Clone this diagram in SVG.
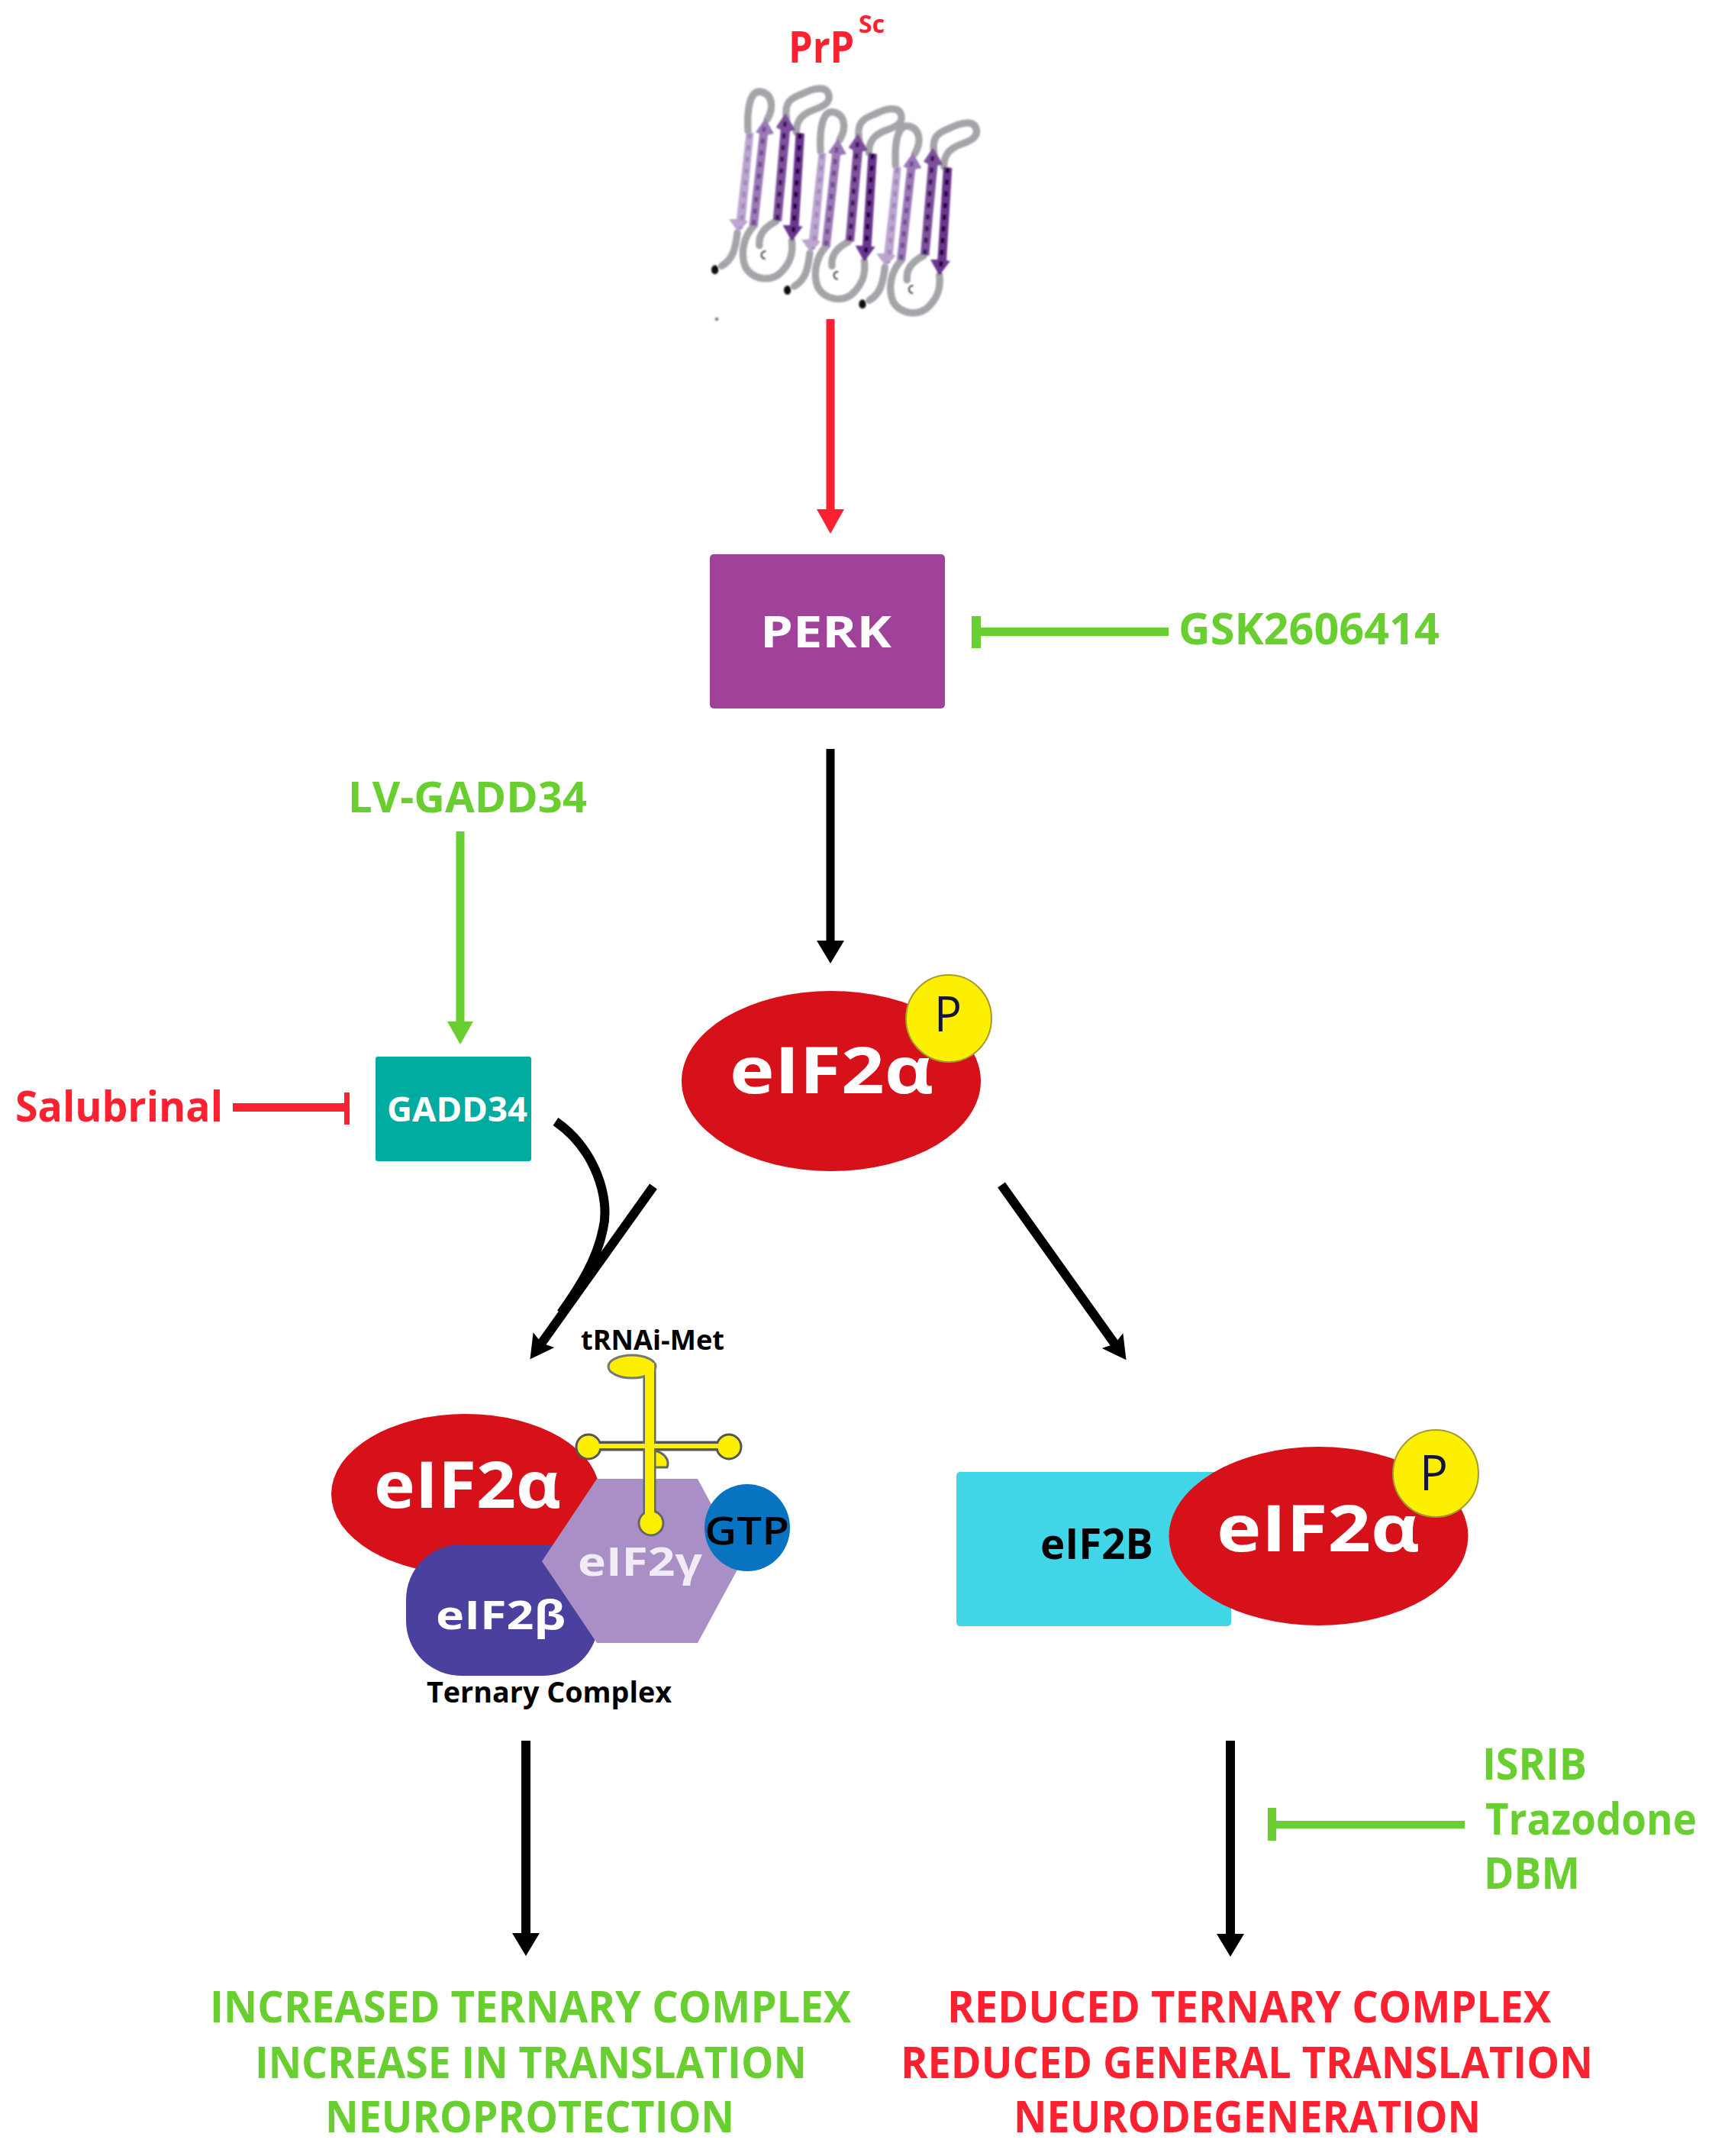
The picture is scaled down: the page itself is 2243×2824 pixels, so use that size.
<svg xmlns="http://www.w3.org/2000/svg" xmlns:xlink="http://www.w3.org/1999/xlink" width="2243" height="2824" viewBox="0 0 2243 2824">
<style>
text{font-family:"Open Sans","Noto Sans","Liberation Sans",sans-serif;font-weight:700}
.g{fill:#69cf30}.r{fill:#fb2130}.w{fill:#fff}.k{fill:#000}
.m{font-size:57px}.a{font-size:84px}
.el{fill:#d7111a}.py{fill:#fcf000;stroke:#a59a30;stroke-width:2}
.tube{fill:none;stroke:#a4a4a9;stroke-width:28;stroke-linecap:round}
.s1{fill:#bca5d0}.s2{fill:#9c78b8}.s3{fill:#7e4f9c}.s4{fill:#6b368f}
.d1,.d2,.d3,.d4{fill:none;stroke-dasharray:20 26;stroke-width:14}
.d1{stroke:#8f6fa8;opacity:.55}.d2{stroke:#5c3a78;opacity:.7}.d3{stroke:#2a0f45;opacity:.85}.d4{stroke:#1a0530}
.arrow{fill:none;stroke:#000;stroke-width:12}
</style>
<defs>
<filter id="soft" x="-5%" y="-5%" width="110%" height="110%"><feGaussianBlur stdDeviation="3"/></filter>
<marker id="hk" markerUnits="userSpaceOnUse" markerWidth="34" markerHeight="40" refX="0" refY="20" orient="auto"><path d="M0 2L30 20L0 38Z" fill="#000"/></marker>
<marker id="hn" markerUnits="userSpaceOnUse" markerWidth="34" markerHeight="40" refX="6" refY="20" orient="auto"><path d="M0 3L31 20L0 37L5 20Z" fill="#000"/></marker>
<marker id="hr" markerUnits="userSpaceOnUse" markerWidth="34" markerHeight="40" refX="0" refY="20" orient="auto"><path d="M0 2L32 20L0 38Z" fill="#fb2130"/></marker>
<marker id="hg" markerUnits="userSpaceOnUse" markerWidth="34" markerHeight="40" refX="0" refY="20" orient="auto"><path d="M0 3L30 20L0 37Z" fill="#69cf30"/></marker>
<g id="prionUnit">
<path class="tube" d="M300,515C295,420 310,360 345,360C395,365 405,420 375,470"/>
<path class="tube" d="M452,470C440,400 470,385 510,370C560,345 610,335 618,375C625,420 560,425 530,445C505,460 490,480 490,520"/>
<path class="tube" d="M258,915C250,980 240,1020 197,1045"/>
<path class="tube" d="M325,885C280,930 270,1000 290,1050C320,1100 390,1110 430,1070C470,1030 478,990 472,945"/>
<path class="tube" d="M410,870C370,890 340,920 345,965"/>
<polygon class="s1" points="293,520 322,522 290,865 300,870 262,912 225,862 255,860"/>
<polygon class="s2" points="305,885 345,525 330,520 368,465 402,525 378,530 338,890"/>
<polygon class="s3" points="398,865 428,510 410,500 447,445 487,512 465,515 432,870"/>
<polygon class="s4" points="488,520 522,525 500,888 515,890 472,948 437,885 465,885"/>
<path class="d1" d="M307,525L272,900"/>
<path class="d2" d="M321,885L366,480"/>
<path class="d3" d="M415,865L447,460"/>
<path class="d4" d="M505,525L476,940"/>
<ellipse cx="170" cy="1060" rx="14" ry="18" fill="#111"/>
<path d="M370,988C350,985 345,1012 368,1018" fill="none" stroke="#444" stroke-width="6"/>
</g>
</defs>
<rect width="2243" height="2824" fill="#fff"/>

<g id="connectors">
<line x1="1088" y1="418" x2="1088" y2="667" stroke="#fb2130" stroke-width="11" marker-end="url(#hr)"/>
<line x1="1285" y1="827.500" x2="1531" y2="827.500" stroke="#69cf30" stroke-width="11"/>
<rect x="1273" y="807" width="12" height="42" fill="#69cf30"/>
<line x1="1088" y1="981" x2="1088" y2="1232" stroke="#000" stroke-width="11" marker-end="url(#hk)"/>
<line x1="603" y1="1089" x2="603" y2="1338" stroke="#69cf30" stroke-width="11" marker-end="url(#hg)"/>
<line x1="305" y1="1450.500" x2="452" y2="1450.500" stroke="#fb2130" stroke-width="11"/>
<rect x="451" y="1431" width="7" height="42" fill="#fb2130"/>
<path class="arrow" d="M728,1469C780,1505 800,1570 790,1610C782,1650 760,1685 735,1720"/>
<line x1="856" y1="1554" x2="709" y2="1760" stroke="#000" stroke-width="12" marker-end="url(#hn)"/>
<line x1="1312" y1="1552" x2="1461" y2="1761" stroke="#000" stroke-width="12" marker-end="url(#hn)"/>
<line x1="689" y1="2280" x2="689" y2="2532" stroke="#000" stroke-width="12" marker-end="url(#hk)"/>
<line x1="1612" y1="2280" x2="1612" y2="2533" stroke="#000" stroke-width="12" marker-end="url(#hk)"/>
<line x1="1672" y1="2390" x2="1919" y2="2390" stroke="#69cf30" stroke-width="10"/>
<rect x="1661" y="2368" width="11" height="43" fill="#69cf30"/>
</g>

<g id="prpsc">
<text class="r" transform="translate(1033,82) scale(0.87,1)" font-size="58">PrP</text>
<text class="r" x="1125" y="43" font-size="32">Sc</text>
<g transform="translate(880,0) scale(0.33333)" filter="url(#soft)">
<use xlink:href="#prionUnit" href="#prionUnit"/>
<use xlink:href="#prionUnit" href="#prionUnit" x="285" y="80"/>
<use xlink:href="#prionUnit" href="#prionUnit" x="580" y="135"/>
<circle cx="177" cy="1254" r="7" fill="#777"/>
</g>
</g>

<g id="perk">
<rect x="930" y="726" width="308" height="202" rx="5" fill="#a0429a"/>
<text class="w m" x="996" y="848" textLength="172" lengthAdjust="spacingAndGlyphs">PERK</text>
</g>
<g id="gsk"><text class="g m" x="1544" y="844" textLength="342" lengthAdjust="spacingAndGlyphs">GSK2606414</text></g>
<g id="lvgadd"><text class="g" font-size="55" x="456" y="1064" textLength="313" lengthAdjust="spacingAndGlyphs">LV-GADD34</text></g>
<g id="salubrinal"><text class="r" font-size="55" x="20" y="1469" textLength="272" lengthAdjust="spacingAndGlyphs">Salubrinal</text></g>
<g id="gadd34">
<rect x="492" y="1384" width="204" height="137" rx="3" fill="#00aba0"/>
<text class="w" font-size="44" x="507" y="1469" textLength="184" lengthAdjust="spacingAndGlyphs">GADD34</text>
</g>

<g id="eif2a-p">
<ellipse class="el" cx="1089" cy="1416" rx="196" ry="118"/>
<text class="w a" x="956" y="1432" textLength="267" lengthAdjust="spacingAndGlyphs">eIF2α</text>
<ellipse class="py" cx="1243" cy="1334" rx="56" ry="57"/>
<text x="1224" y="1351" font-size="64" style="font-weight:500" fill="#14143a" textLength="36" lengthAdjust="spacingAndGlyphs">P</text>
</g>

<g id="ternary-complex">
<ellipse class="el" cx="610" cy="1957" rx="176" ry="105"/>
<text class="w a" x="490" y="1975" textLength="245" lengthAdjust="spacingAndGlyphs">eIF2α</text>
<rect x="532" y="2023" width="252" height="172" rx="72" fill="#4a409e"/>
<polygon points="782,1937 914,1937 972,2045 914,2152 782,2152 710,2045" fill="#a98fc6"/>
<text class="w" font-size="52" x="571" y="2134" textLength="170" lengthAdjust="spacingAndGlyphs">eIF2β</text>
<text font-size="52" x="757" y="2064" fill="#f1ebf6" textLength="163" lengthAdjust="spacingAndGlyphs">eIF2γ</text>
<ellipse cx="979" cy="2001" rx="56" ry="57" fill="#0873c0"/>
<text class="k" font-size="50" style="font-weight:600" x="923" y="2023" textLength="111" lengthAdjust="spacingAndGlyphs">GTP</text>
<g id="trna">
<line x1="771" y1="1894" x2="955" y2="1894" stroke="#555" stroke-width="13"/>
<line x1="851" y1="1785" x2="851" y2="1995" stroke="#666" stroke-width="17"/>
<path d="M858,1900C870,1903 878,1912 874,1922L858,1922Z" fill="#fcf000" stroke="#666" stroke-width="3"/>
<ellipse cx="828" cy="1790" rx="31" ry="15" fill="#fcf000" stroke="#777" stroke-width="3"/>
<circle cx="771" cy="1895" r="16" fill="#fcf000" stroke="#555" stroke-width="3"/>
<circle cx="955" cy="1895" r="16" fill="#fcf000" stroke="#555" stroke-width="3"/>
<circle cx="853" cy="1995" r="16" fill="#fcf000" stroke="#666" stroke-width="3"/>
<line x1="785" y1="1894" x2="941" y2="1894" stroke="#fcf000" stroke-width="6"/>
<line x1="851" y1="1785" x2="851" y2="1985" stroke="#fcf000" stroke-width="12"/>
</g>
<text class="k" font-size="36" x="761" y="1768" textLength="188" lengthAdjust="spacingAndGlyphs">tRNAi-Met</text>
<text class="k" font-size="37" x="559" y="2230" textLength="321" lengthAdjust="spacingAndGlyphs">Ternary Complex</text>
</g>

<g id="eif2b-complex">
<rect x="1253" y="1928" width="360" height="202" rx="5" fill="#40d6e8"/>
<text class="k" font-size="56" x="1363" y="2042" textLength="148" lengthAdjust="spacingAndGlyphs">eIF2B</text>
<ellipse class="el" cx="1727.500" cy="2012" rx="196" ry="117"/>
<text class="w a" x="1594" y="2032" textLength="266" lengthAdjust="spacingAndGlyphs">eIF2α</text>
<ellipse class="py" cx="1881" cy="1930" rx="56" ry="57"/>
<text x="1860" y="1952" font-size="64" style="font-weight:500" fill="#14143a" textLength="37" lengthAdjust="spacingAndGlyphs">P</text>
</g>

<g id="rescuers">
<text class="g m" x="1942" y="2331" textLength="137" lengthAdjust="spacingAndGlyphs">ISRIB</text>
<text class="g m" x="1946" y="2403" textLength="277" lengthAdjust="spacingAndGlyphs">Trazodone</text>
<text class="g m" x="1944" y="2474" textLength="126" lengthAdjust="spacingAndGlyphs">DBM</text>
</g>
<g id="outcome-protective">
<text class="g m" x="275" y="2649" textLength="840" lengthAdjust="spacingAndGlyphs">INCREASED TERNARY COMPLEX</text>
<text class="g m" x="334" y="2722" textLength="723" lengthAdjust="spacingAndGlyphs">INCREASE IN TRANSLATION</text>
<text class="g m" x="426" y="2793" textLength="536" lengthAdjust="spacingAndGlyphs">NEUROPROTECTION</text>
</g>
<g id="outcome-toxic">
<text class="r m" x="1241" y="2649" textLength="791" lengthAdjust="spacingAndGlyphs">REDUCED TERNARY COMPLEX</text>
<text class="r m" x="1180" y="2722" textLength="907" lengthAdjust="spacingAndGlyphs">REDUCED GENERAL TRANSLATION</text>
<text class="r m" x="1328" y="2793" textLength="612" lengthAdjust="spacingAndGlyphs">NEURODEGENERATION</text>
</g>
</svg>
